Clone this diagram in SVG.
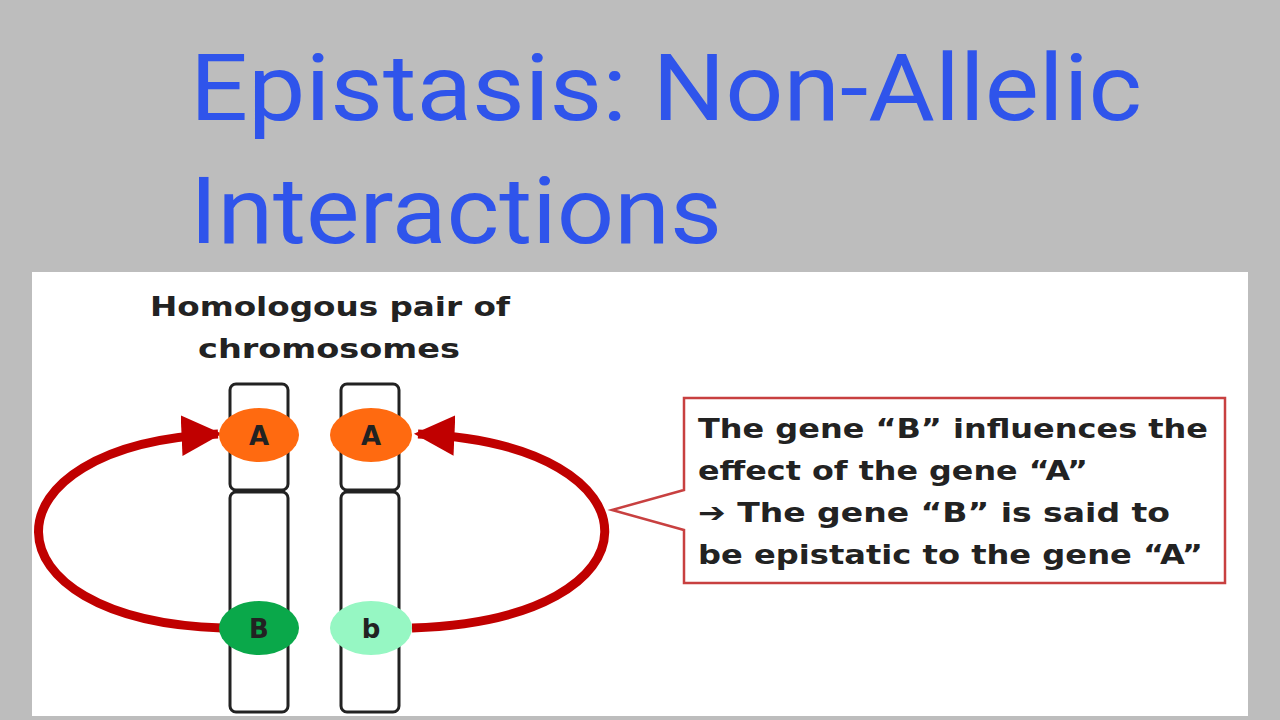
<svg xmlns="http://www.w3.org/2000/svg" width="1280" height="720" viewBox="0 0 1280 720">
<defs>
<style>
.t{font-family:Roboto,"Liberation Sans",Arial,sans-serif}
.b{font-family:"DejaVu Sans",sans-serif;font-weight:bold;fill:#222}
.chr{fill:#fff;stroke:#222;stroke-width:3}
.arc{fill:none;stroke:#c00000;stroke-width:9}
</style>
<marker id="ah" viewBox="0 0 10 10" refX="9" refY="5" markerWidth="4.5" markerHeight="4.5" markerUnits="strokeWidth" orient="auto"><path d="M0,0 L10,5 L0,10 z" fill="#c00000"/></marker>
</defs>
<rect width="1280" height="720" fill="#bdbdbd"/>
<text class="t" x="190" y="120" font-size="92" fill="#2f54eb" textLength="952" lengthAdjust="spacingAndGlyphs">Epistasis: Non-Allelic</text>
<text class="t" x="190" y="243" font-size="92" fill="#2f54eb" textLength="532" lengthAdjust="spacingAndGlyphs">Interactions</text>
<rect x="32" y="272" width="1216" height="444" fill="#fff"/>
<text class="b" x="150" y="316" font-size="26" textLength="360" lengthAdjust="spacingAndGlyphs">Homologous pair of</text>
<text class="b" x="198" y="358" font-size="26" textLength="262" lengthAdjust="spacingAndGlyphs">chromosomes</text>
<g id="chrL"><rect class="chr" x="230" y="384" width="58" height="106" rx="6"/><rect class="chr" x="230" y="492" width="58" height="220" rx="6"/></g>
<g id="chrR"><rect class="chr" x="341" y="384" width="58" height="106" rx="6"/><rect class="chr" x="341" y="492" width="58" height="220" rx="6"/></g>
<g id="connectors">
<path class="arc" d="M222,628 C-22,620 -22,445 218,434" marker-end="url(#ah)"/>
<path class="arc" d="M412,628 C668,620 668,445 418,434" marker-end="url(#ah)"/>
</g>
<g id="AL"><ellipse cx="259" cy="435" rx="40" ry="27" fill="#ff6a10"/><text class="b" x="259" y="445" font-size="26" text-anchor="middle">A</text></g>
<g id="AR"><ellipse cx="371" cy="435" rx="41" ry="27" fill="#ff6a10"/><text class="b" x="371" y="445" font-size="26" text-anchor="middle">A</text></g>
<g id="B"><ellipse cx="259" cy="628" rx="40" ry="27" fill="#0aa84a"/><text class="b" x="259" y="638" font-size="26" text-anchor="middle">B</text></g>
<g id="b"><ellipse cx="371" cy="628" rx="41" ry="27" fill="#96f7c3"/><text class="b" x="371" y="638" font-size="26" text-anchor="middle">b</text></g>
<g id="callout">
<path d="M684,398 H1225 V583 H684 V530 L612,510 L684,490 Z" fill="#fff" stroke="#c84040" stroke-width="2.5"/>
<text class="b" font-size="27">
<tspan x="698" y="438" textLength="510" lengthAdjust="spacingAndGlyphs">The gene “B” influences the</tspan>
<tspan x="698" y="480" textLength="390" lengthAdjust="spacingAndGlyphs">effect of the gene “A”</tspan>
<tspan x="698" y="522" textLength="472" lengthAdjust="spacingAndGlyphs">➔ The gene “B” is said to</tspan>
<tspan x="698" y="564" textLength="505" lengthAdjust="spacingAndGlyphs">be epistatic to the gene “A”</tspan>
</text>
</g>
</svg>
